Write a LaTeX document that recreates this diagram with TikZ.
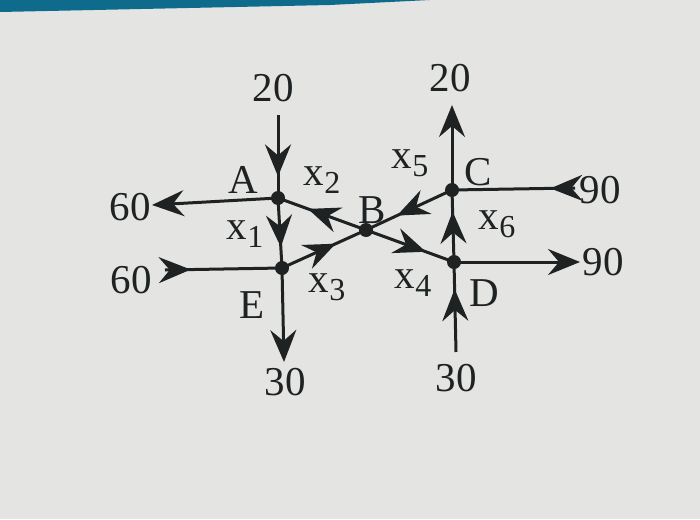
\documentclass[tikz,border=0pt]{standalone}
\usepackage{fontspec}
\setmainfont{Liberation Serif}
\usetikzlibrary{arrows.meta,decorations.markings}
\definecolor{bg}{HTML}{E4E5E3}
\definecolor{ink}{HTML}{1E2222}
\definecolor{band}{HTML}{0E6B8C}
\newcommand{\xs}[1]{x\raisebox{-0.45ex}{\fontsize{32}{34}\selectfont #1}}
\tikzset{
  tipst/.tip={Stealth[length=32pt,width=26pt,inset=11pt]},
  flow/.style={draw=ink,line width=3pt},
  endarrow/.style={flow,-{tipst}},
  midarrow/.style={flow,postaction={decorate},decoration={markings,mark=at position #1 with {\arrow[ink]{tipst}}}},
  dot/.style={circle,fill=ink,inner sep=0pt,minimum size=14pt},
  lbl/.style={text=ink,font=\fontsize{41}{44}\selectfont,inner sep=0pt}
}
\begin{document}
\begin{tikzpicture}[x=1pt,y=-1pt]
\fill[bg] (0,0) rectangle (700,519);
\useasboundingbox (0,0) rectangle (700,519);
\fill[band] (0,0) -- (430,0) -- (330,5) -- (0,12) -- cycle;
% junctions
\node[dot] (A) at (278,198) {};
\node[dot] (E) at (282,268) {};
\node[dot] (B) at (366,230) {};
\node[dot] (C) at (452,190) {};
\node[dot] (D) at (454,262) {};
% free ends
\coordinate (At) at (278,115);
\coordinate (Al) at (152,205);
\coordinate (El) at (165,270);
\coordinate (Eb) at (284,362);
\coordinate (Ct) at (452,105);
\coordinate (Cr) at (575,188);
\coordinate (Dr) at (580,262);
\coordinate (Db) at (456,352);
% connectors
\draw[midarrow=0.74] (At) -- (A.center);
\draw[endarrow] (A.center) -- (Al);
\draw[midarrow=0.7] (A.center) -- (E.center);
\draw[midarrow=0.22] (El) -- (E.center);
\draw[endarrow] (E.center) -- (Eb);
\draw[midarrow=0.66] (B.center) -- (A.center);
\draw[midarrow=0.64] (E.center) -- (B.center);
\draw[midarrow=0.64] (C.center) -- (B.center);
\draw[midarrow=0.68] (B.center) -- (D.center);
\draw[endarrow] (C.center) -- (Ct);
\draw[midarrow=0.2] (Cr) -- (C.center);
\draw[midarrow=0.7] (D.center) -- (C.center);
\draw[endarrow] (D.center) -- (Dr);
\draw[midarrow=0.7] (Db) -- (D.center);
% labels
\node[lbl] (n20a) at (273,88) {20};
\node[lbl] (n20b) at (450,78) {20};
\node[lbl] (n60a) at (130,207) {60};
\node[lbl] (n60b) at (131,280) {60};
\node[lbl] (n30a) at (285,382) {30};
\node[lbl] (n30b) at (456,378) {30};
\node[lbl] (n90a) at (600,190) {90};
\node[lbl] (n90b) at (603,262) {90};
\node[lbl] (lA) at (243,180) {A};
\node[lbl] (lB) at (372,210) {B};
\node[lbl] (lC) at (478,172) {C};
\node[lbl] (lD) at (484,293) {D};
\node[lbl] (lE) at (252,305) {E};
\node[lbl] (x1) at (245,234) {\xs{1}};
\node[lbl] (x2) at (322,180) {\xs{2}};
\node[lbl] (x3) at (327,287) {\xs{3}};
\node[lbl] (x4) at (413,283) {\xs{4}};
\node[lbl] (x5) at (410,163) {\xs{5}};
\node[lbl] (x6) at (497,224) {\xs{6}};
\end{tikzpicture}
\end{document}
